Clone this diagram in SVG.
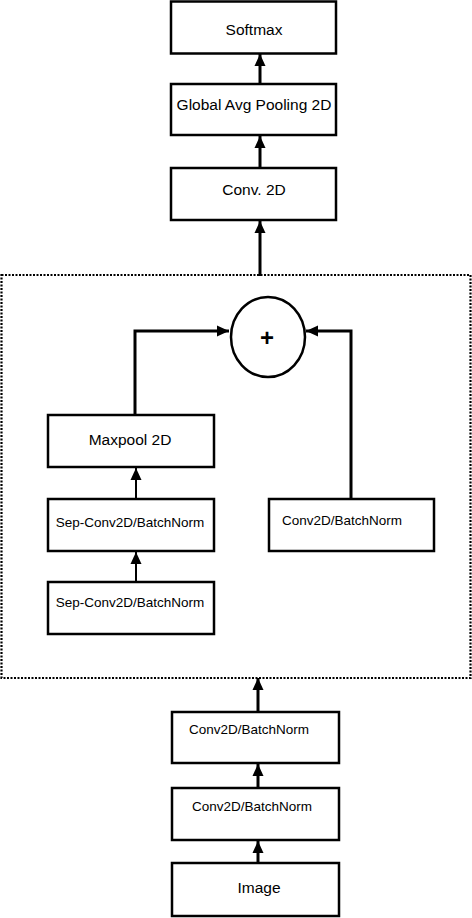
<svg xmlns="http://www.w3.org/2000/svg" width="472" height="918" viewBox="0 0 472 918">
<style>
.box{fill:#fff;stroke:#000;stroke-width:2.5}
.t{font-family:"Liberation Sans",Arial,sans-serif;fill:#000;text-anchor:middle}
.l{font-size:15.5px}
.s{font-size:13.5px}
.c{fill:none;stroke:#000;stroke-width:3}
.c2{fill:none;stroke:#000;stroke-width:2}
</style>
<defs>
<marker id="ah" markerUnits="userSpaceOnUse" markerWidth="12" markerHeight="14" viewBox="0 0 12 14" refX="12" refY="7" orient="auto">
<path d="M0,1.5 L12,7 L0,12.5 Z" fill="#000"/>
</marker>
</defs>
<rect x="1.5" y="275" width="469" height="403" fill="none" stroke="#000" stroke-width="2.2" stroke-dasharray="2 1.5"/>
<g id="connectors">
<line class="c" x1="260" y1="84" x2="260" y2="54" marker-end="url(#ah)"/>
<line class="c" x1="260" y1="168" x2="260" y2="136" marker-end="url(#ah)"/>
<line class="c" x1="260" y1="276" x2="260" y2="221" marker-end="url(#ah)"/>
<polyline class="c" points="135,415 135,331 229,331" marker-end="url(#ah)"/>
<polyline class="c" points="351,499 351,331 306,331" marker-end="url(#ah)"/>
<line class="c2" x1="136" y1="499" x2="136" y2="468" marker-end="url(#ah)"/>
<line class="c2" x1="136" y1="582" x2="136" y2="552" marker-end="url(#ah)"/>
<line class="c" x1="258" y1="712" x2="258" y2="678" marker-end="url(#ah)"/>
<line class="c" x1="258" y1="788" x2="258" y2="764" marker-end="url(#ah)"/>
<line class="c" x1="258" y1="863" x2="258" y2="841" marker-end="url(#ah)"/>
</g>
<g id="softmax"><rect class="box" x="171" y="1.5" width="165" height="52"/><text class="t l" x="254" y="35">Softmax</text></g>
<g id="gap"><rect class="box" x="171" y="84" width="165" height="51"/><text class="t l" x="254" y="110">Global Avg Pooling 2D</text></g>
<g id="conv2d"><rect class="box" x="171" y="168" width="165" height="52"/><text class="t l" x="254" y="195">Conv. 2D</text></g>
<g id="add"><ellipse cx="268" cy="337" rx="37" ry="40" fill="#fff" stroke="#000" stroke-width="2.5"/><text class="t" x="267" y="346" font-size="24" font-weight="bold">+</text></g>
<g id="maxpool"><rect class="box" x="48" y="415" width="166" height="52"/><text class="t l" x="130" y="445">Maxpool 2D</text></g>
<g id="sepconv1"><rect class="box" x="48" y="499" width="166" height="52"/><text class="t s" x="130" y="527">Sep-Conv2D/BatchNorm</text></g>
<g id="sepconv2"><rect class="box" x="48" y="582" width="166" height="52"/><text class="t s" x="130" y="607">Sep-Conv2D/BatchNorm</text></g>
<g id="convbn-right"><rect class="box" x="269" y="499" width="165" height="52"/><text class="t s" x="342" y="525">Conv2D/BatchNorm</text></g>
<g id="convbn1"><rect class="box" x="172" y="712" width="167" height="51"/><text class="t s" x="249" y="734">Conv2D/BatchNorm</text></g>
<g id="convbn2"><rect class="box" x="172" y="788" width="167" height="52"/><text class="t s" x="252" y="811">Conv2D/BatchNorm</text></g>
<g id="image"><rect class="box" x="172" y="863" width="167" height="53"/><text class="t l" x="259" y="893">Image</text></g>
</svg>
